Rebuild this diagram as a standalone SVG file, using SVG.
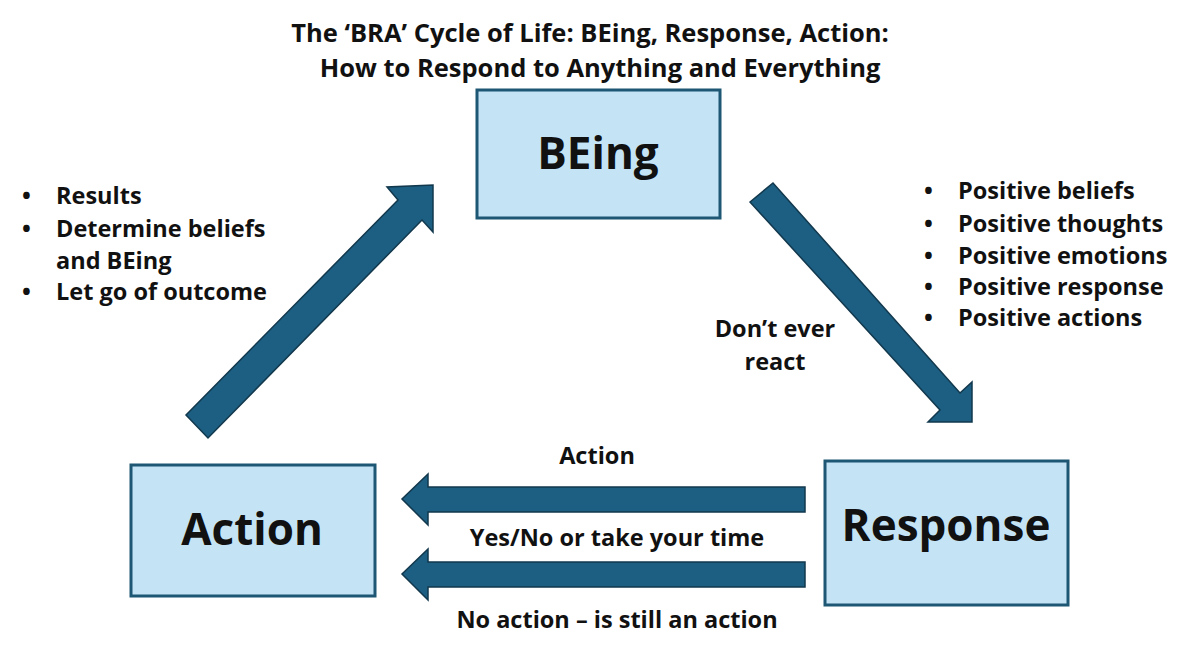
<svg xmlns="http://www.w3.org/2000/svg" width="1200" height="669" viewBox="0 0 1200 669">
<style>
text{font-family:"Open Sans","Liberation Sans",sans-serif;font-weight:bold;fill:#111}
.box{fill:#c4e4f6;stroke:#1d5774;stroke-width:3}
.arr{fill:#1c5f82;stroke:#12384d;stroke-width:1.5}
.t{font-size:23.5px}
.h{font-size:25.5px}
.n{font-size:44px}
</style>
<rect width="1200" height="669" fill="#fff"/>
<text class="h" x="590" y="42" text-anchor="middle">The ‘BRA’ Cycle of Life: BEing, Response, Action:</text>
<text class="h" x="600" y="77" text-anchor="middle">How to Respond to Anything and Everything</text>
<g id="connectors">
<polygon class="arr" points="186,415 398,200 387,187 433,185 433,232 422,220 208,438"/>
<polygon class="arr" points="750,202 940,410 928,422 972,422 972,382 960,393 773,183"/>
<polygon class="arr" points="805,487 428,487 428,474 402,499 428,525 428,512 805,512"/>
<polygon class="arr" points="805,562 428,562 428,549 402,574 428,600 428,587 805,587"/>
<text class="t" x="597" y="464" text-anchor="middle">Action</text>
<text class="t" x="617" y="546" text-anchor="middle">Yes/No or take your time</text>
<text class="t" x="617" y="628" text-anchor="middle">No action –  is still an action</text>
<text class="t" x="775" y="337" text-anchor="middle">Don’t ever</text>
<text class="t" x="775" y="370" text-anchor="middle">react</text>
</g>
<g id="being"><rect class="box" x="477" y="90" width="243" height="128"/><text class="n" x="598" y="169" text-anchor="middle">BEing</text></g>
<g id="action"><rect class="box" x="131" y="465" width="244" height="131"/><text class="n" x="252" y="545" text-anchor="middle">Action</text></g>
<g id="response"><rect class="box" x="825" y="461" width="243" height="144"/><text class="n" x="946" y="541" text-anchor="middle">Response</text></g>
<g id="left-notes">
<text class="t" x="22" y="204">•</text><text class="t" x="56" y="204">Results</text>
<text class="t" x="22" y="237">•</text><text class="t" x="56" y="237">Determine beliefs</text>
<text class="t" x="56" y="269">and BEing</text>
<text class="t" x="22" y="300">•</text><text class="t" x="56" y="300">Let go of outcome</text>
</g>
<g id="right-notes">
<text class="t" x="924" y="199">•</text><text class="t" x="958" y="199">Positive beliefs</text>
<text class="t" x="924" y="232">•</text><text class="t" x="958" y="232">Positive thoughts</text>
<text class="t" x="924" y="264">•</text><text class="t" x="958" y="264">Positive emotions</text>
<text class="t" x="924" y="295">•</text><text class="t" x="958" y="295">Positive response</text>
<text class="t" x="924" y="326">•</text><text class="t" x="958" y="326">Positive actions</text>
</g>
</svg>
